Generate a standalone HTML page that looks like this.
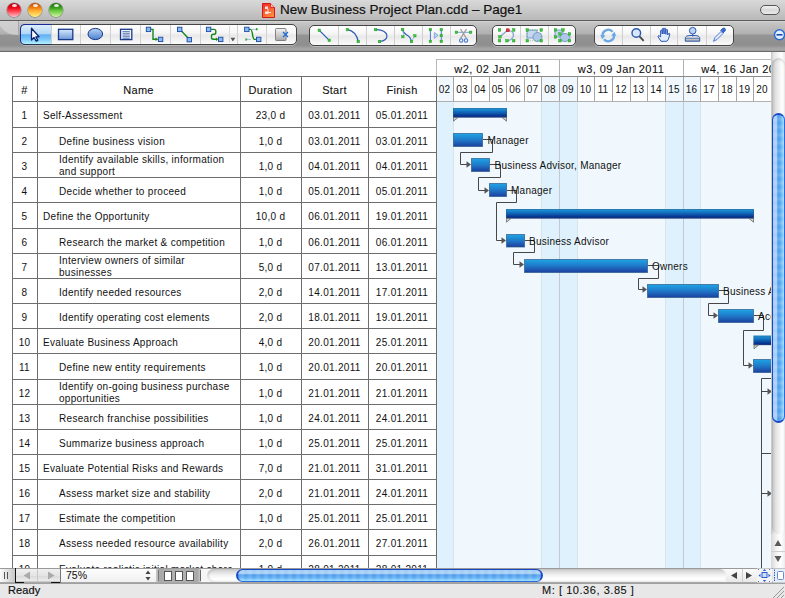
<!DOCTYPE html><html><head><meta charset="utf-8"><style>

*{box-sizing:border-box}
html,body{margin:0;padding:0}
body{width:785px;height:598px;overflow:hidden;position:relative;background:#fff;font-family:"Liberation Sans", sans-serif;color:#1a1a1a}
.abs{position:absolute}
#title{left:0;top:0;width:785px;height:21px;background:linear-gradient(#d9d9d9,#b9b9b9);border-bottom:1px solid #5d5d5d}
#tb{left:0;top:21px;width:785px;height:31px;background:linear-gradient(#d6d6d6 0px,#c4c4c4 2px,#b0b0b0 13px,#949494 14px,#8e8e8e 24px,#a8a8a8 28px,#a0a0a0 29px);border-bottom:1px solid #6a6a6a}
.grp{position:absolute;top:24px;height:21px;border:1px solid #454545;border-radius:5px;background:linear-gradient(#ffffff,#f6f6f6 40%,#e9e9e9 55%,#f4f4f4 85%,#fbfbfb);box-shadow:0 1px 0 rgba(255,255,255,.35)}
.sep{position:absolute;top:1px;bottom:1px;width:1px;background:#d0d0d0}
.t{position:absolute;white-space:nowrap;font-size:10px;letter-spacing:.3px;line-height:12px;color:#111}
.h{position:absolute;white-space:nowrap;font-size:11px;letter-spacing:.3px;color:#111;-webkit-text-stroke:.1px #111}

</style></head><body>
<div id="title" class="abs"></div>
<div class="abs" style="left:7px;top:3px;width:14px;height:14px;border-radius:50%;background:linear-gradient(#a80010 0,#f00818 35%,#ff3a48 55%,#ffc0c8 100%);box-shadow:0 0 0 .6px rgba(0,0,0,.3),0 .5px 1px rgba(0,0,0,.2)"></div>
<div class="abs" style="left:11.5px;top:4px;width:5px;height:3px;border-radius:50%;background:rgba(255,255,255,.85);filter:blur(.4px)"></div>
<div class="abs" style="left:28px;top:3px;width:14px;height:14px;border-radius:50%;background:linear-gradient(#b84800 0,#f08010 35%,#ffb030 55%,#fff080 100%);box-shadow:0 0 0 .6px rgba(0,0,0,.3),0 .5px 1px rgba(0,0,0,.2)"></div>
<div class="abs" style="left:32.5px;top:4px;width:5px;height:3px;border-radius:50%;background:rgba(255,255,255,.85);filter:blur(.4px)"></div>
<div class="abs" style="left:49px;top:3px;width:14px;height:14px;border-radius:50%;background:linear-gradient(#1a6a08 0,#3aa020 35%,#6ac840 55%,#d0f8a0 100%);box-shadow:0 0 0 .6px rgba(0,0,0,.3),0 .5px 1px rgba(0,0,0,.2)"></div>
<div class="abs" style="left:53.5px;top:4px;width:5px;height:3px;border-radius:50%;background:rgba(255,255,255,.85);filter:blur(.4px)"></div>
<svg class="abs" style="left:262px;top:3px" width="13" height="15" viewBox="0 0 13 15"><defs><linearGradient id="di" x1="0" y1="0" x2=".6" y2="1"><stop offset="0" stop-color="#f02a2a"/><stop offset="1" stop-color="#ff8a3a"/></linearGradient></defs><path d="M0.5 0.5H8.5L12.5 4.5V14.5H0.5Z" fill="url(#di)" stroke="#d81818"/><path d="M8.5 0.5V4.5H12.5" fill="#ffc0b0" stroke="#d81818" stroke-width=".8"/><path d="M3 3.5h3v2.5h-3z M5.5 6h1v3h2.5v1h-2.5v1h-3.5v-2.5h2.5z" fill="#fff" opacity=".85"/></svg>
<div class="abs" style="left:280px;top:2px;font-size:13.5px;letter-spacing:.02px;color:#111;white-space:nowrap;line-height:16px;-webkit-text-stroke:.2px #111">New Business Project Plan.cdd – Page1</div>
<div class="abs" style="left:760px;top:5px;width:20px;height:10px;border-radius:5px;border:1px solid #555;background:linear-gradient(#f4f4f4,#d8d8d8 50%,#eaeaea)"></div>
<div id="tb" class="abs"></div>
<svg class="abs" style="left:0;top:21px" width="20" height="30"><path d="M0 0H18V14Q6 14 0 5Z" fill="#d2d2d2" opacity=".8"/><line x1="18.5" y1="0" x2="18.5" y2="15" stroke="#a8a8a8" stroke-width="1"/></svg>
<div class="grp" style="left:20px;width:277px;top:24px"></div>
<div class="abs" style="left:51px;top:25px;height:19px;width:1px;background:#cfcfcf"></div>
<div class="abs" style="left:80px;top:25px;height:19px;width:1px;background:#cfcfcf"></div>
<div class="abs" style="left:110px;top:25px;height:19px;width:1px;background:#cfcfcf"></div>
<div class="abs" style="left:140px;top:25px;height:19px;width:1px;background:#cfcfcf"></div>
<div class="abs" style="left:170px;top:25px;height:19px;width:1px;background:#cfcfcf"></div>
<div class="abs" style="left:200px;top:25px;height:19px;width:1px;background:#cfcfcf"></div>
<div class="abs" style="left:229px;top:26px;height:17px;width:1px;background:#dadada"></div>
<div class="abs" style="left:237px;top:25px;height:19px;width:1px;background:#cfcfcf"></div>
<div class="abs" style="left:266px;top:25px;height:19px;width:1px;background:#cfcfcf"></div>
<div class="grp" style="left:309px;width:168px;top:25px"></div>
<div class="abs" style="left:338px;top:26px;height:19px;width:1px;background:#cfcfcf"></div>
<div class="abs" style="left:366px;top:26px;height:19px;width:1px;background:#cfcfcf"></div>
<div class="abs" style="left:394px;top:26px;height:19px;width:1px;background:#cfcfcf"></div>
<div class="abs" style="left:422px;top:26px;height:19px;width:1px;background:#cfcfcf"></div>
<div class="abs" style="left:450px;top:26px;height:19px;width:1px;background:#cfcfcf"></div>
<div class="grp" style="left:492px;width:84px;top:25px"></div>
<div class="abs" style="left:520px;top:26px;height:19px;width:1px;background:#cfcfcf"></div>
<div class="abs" style="left:548px;top:26px;height:19px;width:1px;background:#cfcfcf"></div>
<div class="grp" style="left:594px;width:140px;top:25px"></div>
<div class="abs" style="left:622px;top:26px;height:19px;width:1px;background:#cfcfcf"></div>
<div class="abs" style="left:650px;top:26px;height:19px;width:1px;background:#cfcfcf"></div>
<div class="abs" style="left:677px;top:26px;height:19px;width:1px;background:#cfcfcf"></div>
<div class="abs" style="left:706px;top:26px;height:19px;width:1px;background:#cfcfcf"></div>
<div class="abs" style="left:20px;top:24px;width:31px;height:21px;border:1px solid #1a2a9a;border-bottom-color:#2a3050;border-right:none;border-radius:5px 0 0 5px;background:linear-gradient(#dcedfb,#b2d8f6 45%,#62b0f0 52%,#7cc8f8 75%,#b4f2ff)"></div>
<svg class="abs" style="left:0;top:0" width="785" height="52" viewBox="0 0 785 52"><path d="M31.5 28.3V40L34 37.5L36.2 41.2L37.8 40.4L35.8 36.8H39Z" fill="#fff" stroke="#102070" stroke-width="1.3" stroke-linejoin="round"/><defs><linearGradient id="lb" x1="0" y1="0" x2="0" y2="1"><stop offset="0" stop-color="#d8e8fc"/><stop offset="1" stop-color="#6a9ad8"/></linearGradient><linearGradient id="lb2" x1="0" y1="0" x2="0" y2="1"><stop offset="0" stop-color="#b8d4f6"/><stop offset="1" stop-color="#4a80d0"/></linearGradient><linearGradient id="gb" x1="0" y1="0" x2="0" y2="1"><stop offset="0" stop-color="#f4f4f4"/><stop offset="1" stop-color="#a8a8a8"/></linearGradient></defs><rect x="58.5" y="29.3" width="14.3" height="10.3" fill="url(#lb)" stroke="#1a3a8a" stroke-width="1.3"/><ellipse cx="95.3" cy="34" rx="7.3" ry="5.6" fill="url(#lb2)" stroke="#1a3a8a" stroke-width="1"/><rect x="120.5" y="29.3" width="11.3" height="10.3" fill="#eef4fc" stroke="#1a3a8a" stroke-width="1.3"/><line x1="122.6" y1="31.6" x2="129.8" y2="31.6" stroke="#3a5aa0" stroke-width=".8"/><line x1="122.6" y1="33.3" x2="129.8" y2="33.3" stroke="#3a5aa0" stroke-width=".8"/><line x1="122.6" y1="35" x2="129.8" y2="35" stroke="#3a5aa0" stroke-width=".8"/><line x1="122.6" y1="36.7" x2="129.8" y2="36.7" stroke="#3a5aa0" stroke-width=".8"/><line x1="122.6" y1="38.3" x2="129.8" y2="38.3" stroke="#3a5aa0" stroke-width=".8"/><path d="M150.5 29.4H153V39.3H157" fill="none" stroke="#14881a" stroke-width="1.4"/><path d="M155.5 37.6L158.3 39.3L155.5 41Z" fill="#14881a"/><rect x="146.3" y="27.2" width="4.4" height="4.4" fill="#8ab8f0" stroke="#1a4aa0" stroke-width=".9"/><rect x="158.4" y="37.199999999999996" width="4.4" height="4.4" fill="#8ab8f0" stroke="#1a4aa0" stroke-width=".9"/><path d="M181 30.5L188.5 38.5" stroke="#14881a" stroke-width="1.4"/><rect x="177.5" y="27.2" width="4.4" height="4.4" fill="#8ab8f0" stroke="#1a4aa0" stroke-width=".9"/><rect x="187.10000000000002" y="37.5" width="4.4" height="4.4" fill="#8ab8f0" stroke="#1a4aa0" stroke-width=".9"/><path d="M210.8 29.4H214Q215.8 29.4 215.8 31.2V32.4Q215.8 34.2 214 34.2H213.3Q211.5 34.2 211.5 36V37.5Q211.5 39.3 213.3 39.3H216.5" fill="none" stroke="#14881a" stroke-width="1.4"/><path d="M216 37.6L218.5 39.3L216 41Z" fill="#14881a"/><rect x="206.4" y="27.2" width="4.4" height="4.4" fill="#8ab8f0" stroke="#1a4aa0" stroke-width=".9"/><rect x="218.5" y="37.199999999999996" width="4.4" height="4.4" fill="#8ab8f0" stroke="#1a4aa0" stroke-width=".9"/><path d="M230.5 37.8H235.3L232.9 41.6Z" fill="#555"/><path d="M249 29.4H250.5C253 29.4 252 39.4 254.5 39.4H256" fill="none" stroke="#14881a" stroke-width="1.4"/><path d="M251 29.4H256.5M246 39.4H251" stroke="#8ab0e0" stroke-width=".8"/><rect x="244.60000000000002" y="27.2" width="4.4" height="4.4" fill="#8ab8f0" stroke="#1a4aa0" stroke-width=".9"/><rect x="256.5" y="37.199999999999996" width="4.4" height="4.4" fill="#8ab8f0" stroke="#1a4aa0" stroke-width=".9"/><rect x="256.15000000000003" y="28.75" width="1.3" height="1.3" fill="#3ec43e" stroke="#1f9a1f" stroke-width=".4"/><rect x="245.65" y="38.85" width="1.3" height="1.3" fill="#3ec43e" stroke="#1f9a1f" stroke-width=".4"/><rect x="275.5" y="28.5" width="10.5" height="12" rx=".8" fill="url(#gb)" stroke="#777" stroke-width=".9"/><path d="M283 32L288 37M288 32L283 37" stroke="#1a6ad8" stroke-width="1.3"/><line x1="319.3" y1="30.3" x2="329.3" y2="40.3" stroke="#2a5ab0" stroke-width="1.2"/><rect x="318.0" y="29.0" width="2.6" height="2.6" fill="#3ec43e" stroke="#1f9a1f" stroke-width=".4"/><rect x="328.0" y="39.0" width="2.6" height="2.6" fill="#3ec43e" stroke="#1f9a1f" stroke-width=".4"/><path d="M347.4 29.6Q356 31 358.3 41.5" fill="none" stroke="#2a5ab0" stroke-width="1.2"/><rect x="346.09999999999997" y="28.3" width="2.6" height="2.6" fill="#3ec43e" stroke="#1f9a1f" stroke-width=".4"/><rect x="357.0" y="40.2" width="2.6" height="2.6" fill="#3ec43e" stroke="#1f9a1f" stroke-width=".4"/><path d="M375.5 29.6C390 29 390 41.5 379.5 41.5" fill="none" stroke="#2a5ab0" stroke-width="1.2"/><rect x="374.2" y="28.3" width="2.6" height="2.6" fill="#3ec43e" stroke="#1f9a1f" stroke-width=".4"/><rect x="378.2" y="40.2" width="2.6" height="2.6" fill="#3ec43e" stroke="#1f9a1f" stroke-width=".4"/><path d="M402.6 29.5C404 37 410 33 411.5 41.5" fill="none" stroke="#2a5ab0" stroke-width="1.1"/><path d="M402.6 29.5L404 36M411.5 41.5L414.9 35.8" stroke="#7aa8e0" stroke-width=".7"/><rect x="401.3" y="28.2" width="2.6" height="2.6" fill="#3ec43e" stroke="#1f9a1f" stroke-width=".4"/><rect x="410.2" y="40.2" width="2.6" height="2.6" fill="#3ec43e" stroke="#1f9a1f" stroke-width=".4"/><rect x="401.7" y="35.5" width="2.4" height="2.4" fill="#3ec43e" stroke="#1f9a1f" stroke-width=".4"/><rect x="413.7" y="34.599999999999994" width="2.4" height="2.4" fill="#3ec43e" stroke="#1f9a1f" stroke-width=".4"/><line x1="430.4" y1="29.5" x2="430.4" y2="41.5" stroke="#4a7ad0" stroke-width="1"/><line x1="441.3" y1="29.5" x2="441.3" y2="41.5" stroke="#4a7ad0" stroke-width="1"/><path d="M434.4 32.5L438.2 35.3L434.4 38.3Z" fill="#bcd4f4" stroke="#6a94d8" stroke-width=".7"/><rect x="429.09999999999997" y="28.3" width="2.6" height="2.6" fill="#3ec43e" stroke="#1f9a1f" stroke-width=".4"/><rect x="429.09999999999997" y="40.1" width="2.6" height="2.6" fill="#3ec43e" stroke="#1f9a1f" stroke-width=".4"/><rect x="440.0" y="28.3" width="2.6" height="2.6" fill="#3ec43e" stroke="#1f9a1f" stroke-width=".4"/><rect x="440.0" y="34.2" width="2.6" height="2.6" fill="#3ec43e" stroke="#1f9a1f" stroke-width=".4"/><rect x="440.0" y="40.1" width="2.6" height="2.6" fill="#3ec43e" stroke="#1f9a1f" stroke-width=".4"/><line x1="456.4" y1="32.3" x2="470.6" y2="32.3" stroke="#6a94d8" stroke-width=".9"/><path d="M460.5 29L466.5 38.5M466.5 29L460.5 38.5" stroke="#9a9a9a" stroke-width="1.3"/><circle cx="461.2" cy="40.5" r="1.7" fill="none" stroke="#4a7ad0" stroke-width="1.1"/><circle cx="466" cy="40.5" r="1.7" fill="none" stroke="#4a7ad0" stroke-width="1.1"/><rect x="455.09999999999997" y="30.999999999999996" width="2.6" height="2.6" fill="#3ec43e" stroke="#1f9a1f" stroke-width=".4"/><rect x="469.3" y="30.999999999999996" width="2.6" height="2.6" fill="#3ec43e" stroke="#1f9a1f" stroke-width=".4"/><path d="M499.9 36.8L507.7 30.3Q515 31 513 37Q511 40.7 507 40.7" fill="none" stroke="#8aa8d8" stroke-width="1.4"/><rect x="498.2" y="28.7" width="2.6" height="2.6" fill="#3ec43e" stroke="#1f9a1f" stroke-width=".4"/><rect x="512.4000000000001" y="28.7" width="2.6" height="2.6" fill="#3ec43e" stroke="#1f9a1f" stroke-width=".4"/><rect x="498.2" y="39.400000000000006" width="2.6" height="2.6" fill="#3ec43e" stroke="#1f9a1f" stroke-width=".4"/><rect x="512.4000000000001" y="39.400000000000006" width="2.6" height="2.6" fill="#3ec43e" stroke="#1f9a1f" stroke-width=".4"/><rect x="498.59999999999997" y="35.5" width="2.6" height="2.6" fill="#3ec43e" stroke="#1f9a1f" stroke-width=".4"/><rect x="505.7" y="39.400000000000006" width="2.6" height="2.6" fill="#3ec43e" stroke="#1f9a1f" stroke-width=".4"/><rect x="506.2" y="28.8" width="3" height="3" fill="#e03030" stroke="#a01010" stroke-width=".4"/><rect x="527" y="30" width="10" height="8" fill="#c4d8f0" stroke="#6a8ac0" stroke-width=".8"/><circle cx="537.5" cy="37" r="4.5" fill="#b0c8e8" stroke="#6a8ac0" stroke-width=".8"/><rect x="527" y="30" width="14" height="10.7" fill="none" stroke="#3aaa3a" stroke-width=".6" stroke-dasharray="1 1.5"/><rect x="526.0" y="28.7" width="2.6" height="2.6" fill="#3ec43e" stroke="#1f9a1f" stroke-width=".4"/><rect x="540.0" y="28.7" width="2.6" height="2.6" fill="#3ec43e" stroke="#1f9a1f" stroke-width=".4"/><rect x="526.0" y="39.400000000000006" width="2.6" height="2.6" fill="#3ec43e" stroke="#1f9a1f" stroke-width=".4"/><rect x="540.0" y="39.400000000000006" width="2.6" height="2.6" fill="#3ec43e" stroke="#1f9a1f" stroke-width=".4"/><rect x="555" y="30" width="8" height="7" fill="#c4d8f0" stroke="#6a8ac0" stroke-width=".8"/><ellipse cx="565" cy="37.5" rx="5" ry="4" fill="#b0c8e8" stroke="#6a8ac0" stroke-width=".8"/><rect x="554.2" y="28.7" width="2.6" height="2.6" fill="#3ec43e" stroke="#1f9a1f" stroke-width=".4"/><rect x="561.7" y="28.7" width="2.6" height="2.6" fill="#3ec43e" stroke="#1f9a1f" stroke-width=".4"/><rect x="554.2" y="35.7" width="2.6" height="2.6" fill="#3ec43e" stroke="#1f9a1f" stroke-width=".4"/><rect x="558.7" y="32.7" width="2.6" height="2.6" fill="#3ec43e" stroke="#1f9a1f" stroke-width=".4"/><rect x="568.2" y="32.7" width="2.6" height="2.6" fill="#3ec43e" stroke="#1f9a1f" stroke-width=".4"/><rect x="558.7" y="39.400000000000006" width="2.6" height="2.6" fill="#3ec43e" stroke="#1f9a1f" stroke-width=".4"/><rect x="568.2" y="39.400000000000006" width="2.6" height="2.6" fill="#3ec43e" stroke="#1f9a1f" stroke-width=".4"/><path d="M602.8 36.5A5.6 5.6 0 0 1 612.6 31.8" fill="none" stroke="#6aa8e6" stroke-width="2.4"/><path d="M613.8 34.5A5.6 5.6 0 0 1 604 39.2" fill="none" stroke="#6aa8e6" stroke-width="2.4"/><path d="M600.3 35L605.5 35.5L602.2 39.3Z M616.3 36L611.1 35.5L614.4 31.7Z" fill="#6aa8e6"/><circle cx="636.3" cy="33" r="4.3" fill="#d8e8fc" stroke="#2a5ab0" stroke-width="1.4"/><path d="M639.5 36.3L643.7 40.8" stroke="#444" stroke-width="1.8"/><path d="M661 41.3L658.2 37Q657.6 35.8 658.8 35.6L660.6 36.8V30.8Q660.8 29.6 661.9 30.2L662.3 34V29Q662.6 27.9 663.7 28.3L664.1 34V28.8Q664.5 27.9 665.6 28.4L665.9 34.3V30Q666.4 29.2 667.4 29.7L667.7 35Q668.5 33 669.3 33.3Q670.2 33.8 669.7 35L668.2 39.5Q667.5 41.3 666 41.3Z" fill="#e0ecfc" stroke="#1a4ab0" stroke-width=".9" stroke-linejoin="round"/><circle cx="692.7" cy="30.7" r="3.3" fill="#bcd4f4" stroke="#2a5ab0" stroke-width="1"/><path d="M685.3 37.5Q686 35.5 690 35.5H695Q699 35.5 699.7 37.5V41.2H685.3Z" fill="url(#gb)" stroke="#2a5ab0" stroke-width="1"/><line x1="692.7" y1="34" x2="692.7" y2="36.5" stroke="#2a5ab0"/><line x1="685.5" y1="38.3" x2="699.5" y2="38.3" stroke="#2a5ab0" stroke-width=".7"/><path d="M713.5 41.3L715 37.5L721 31.5L723 33.5L717 39.5Z" fill="#e4eefc" stroke="#3a6ad0" stroke-width=".9"/><path d="M720.5 30.5L722.5 28.5Q724 27.5 725 28.5Q726 29.5 725 31L723 33" fill="#3a6ad0" stroke="#2a5ab0" stroke-width=".9"/><circle cx="779.5" cy="34.8" r="5" fill="#e4eefc" stroke="#2a6ad0" stroke-width="1.4"/><line x1="776.5" y1="34.8" x2="782.5" y2="34.8" stroke="#1a4ab0" stroke-width="1.6"/></svg>
<div class="abs" style="left:0;top:52px;width:771px;height:516px;overflow:hidden;background:#fff" id="cv">
<div class="abs" style="left:437px;top:50px;width:334px;height:600px;background:#f0f8fe"></div>
<div class="abs" style="left:437px;top:50px;width:16px;height:600px;background:#dff1fc"></div>
<div class="abs" style="left:541px;top:50px;width:36px;height:600px;background:#dff1fc"></div>
<div class="abs" style="left:665px;top:50px;width:35px;height:600px;background:#dff1fc"></div>
<div class="abs" style="left:788px;top:50px;width:0px;height:600px;background:#dff1fc"></div>
<div class="abs" style="left:437px;top:25px;width:16px;height:24px;background:#f0f8fe"></div>
<div class="abs" style="left:541px;top:25px;width:36px;height:24px;background:#f0f8fe"></div>
<div class="abs" style="left:665px;top:25px;width:35px;height:24px;background:#f0f8fe"></div>
<div class="abs" style="left:453px;top:50px;width:1px;height:600px;background:#d8e4ec"></div>
<div class="abs" style="left:541px;top:50px;width:1px;height:600px;background:#d8e4ec"></div>
<div class="abs" style="left:577px;top:50px;width:1px;height:600px;background:#d8e4ec"></div>
<div class="abs" style="left:665px;top:50px;width:1px;height:600px;background:#d8e4ec"></div>
<div class="abs" style="left:700px;top:50px;width:1px;height:600px;background:#d8e4ec"></div>
<div class="abs" style="left:559px;top:50px;width:1px;height:600px;background:#c4c8d0"></div>
<div class="abs" style="left:683px;top:50px;width:1px;height:600px;background:#c4c8d0"></div>
<div class="abs" style="left:436px;top:7px;width:335px;height:1px;background:#bcbcbc"></div>
<div class="abs" style="left:436px;top:7px;width:1px;height:17px;background:#b8b8b8"></div>
<div class="abs" style="left:559px;top:7px;width:1px;height:17px;background:#b0b0b0"></div>
<div class="abs" style="left:683px;top:7px;width:1px;height:17px;background:#b0b0b0"></div>
<div class="abs" style="left:436px;top:24px;width:335px;height:1px;background:#8a8a8a"></div>
<div class="abs" style="left:436px;top:49px;width:335px;height:1px;background:#b0b0b0"></div>
<div class="abs" style="left:453px;top:25px;width:1px;height:24px;background:#a4a4a4"></div>
<div class="abs" style="left:471px;top:25px;width:1px;height:24px;background:#a4a4a4"></div>
<div class="abs" style="left:489px;top:25px;width:1px;height:24px;background:#a4a4a4"></div>
<div class="abs" style="left:506px;top:25px;width:1px;height:24px;background:#a4a4a4"></div>
<div class="abs" style="left:524px;top:25px;width:1px;height:24px;background:#a4a4a4"></div>
<div class="abs" style="left:541px;top:25px;width:1px;height:24px;background:#a4a4a4"></div>
<div class="abs" style="left:559px;top:25px;width:1px;height:24px;background:#a4a4a4"></div>
<div class="abs" style="left:577px;top:25px;width:1px;height:24px;background:#a4a4a4"></div>
<div class="abs" style="left:594px;top:25px;width:1px;height:24px;background:#a4a4a4"></div>
<div class="abs" style="left:612px;top:25px;width:1px;height:24px;background:#a4a4a4"></div>
<div class="abs" style="left:630px;top:25px;width:1px;height:24px;background:#a4a4a4"></div>
<div class="abs" style="left:647px;top:25px;width:1px;height:24px;background:#a4a4a4"></div>
<div class="abs" style="left:665px;top:25px;width:1px;height:24px;background:#a4a4a4"></div>
<div class="abs" style="left:683px;top:25px;width:1px;height:24px;background:#a4a4a4"></div>
<div class="abs" style="left:700px;top:25px;width:1px;height:24px;background:#a4a4a4"></div>
<div class="abs" style="left:718px;top:25px;width:1px;height:24px;background:#a4a4a4"></div>
<div class="abs" style="left:736px;top:25px;width:1px;height:24px;background:#a4a4a4"></div>
<div class="abs" style="left:753px;top:25px;width:1px;height:24px;background:#a4a4a4"></div>
<div class="h" style="left:437.5px;width:120px;text-align:center;top:10px;line-height:14px;letter-spacing:.43px">w2, 02 Jan 2011</div>
<div class="h" style="left:561.0px;width:120px;text-align:center;top:10px;line-height:14px;letter-spacing:.43px">w3, 09 Jan 2011</div>
<div class="h" style="left:684.5px;width:120px;text-align:center;top:10px;line-height:14px;letter-spacing:.43px">w4, 16 Jan 2011</div>
<div class="t" style="left:434.5px;width:20px;text-align:center;top:31.5px;font-size:10px;letter-spacing:.1px">02</div>
<div class="t" style="left:452.0px;width:20px;text-align:center;top:31.5px;font-size:10px;letter-spacing:.1px">03</div>
<div class="t" style="left:470.0px;width:20px;text-align:center;top:31.5px;font-size:10px;letter-spacing:.1px">04</div>
<div class="t" style="left:487.5px;width:20px;text-align:center;top:31.5px;font-size:10px;letter-spacing:.1px">05</div>
<div class="t" style="left:505.0px;width:20px;text-align:center;top:31.5px;font-size:10px;letter-spacing:.1px">06</div>
<div class="t" style="left:522.5px;width:20px;text-align:center;top:31.5px;font-size:10px;letter-spacing:.1px">07</div>
<div class="t" style="left:540.0px;width:20px;text-align:center;top:31.5px;font-size:10px;letter-spacing:.1px">08</div>
<div class="t" style="left:558.0px;width:20px;text-align:center;top:31.5px;font-size:10px;letter-spacing:.1px">09</div>
<div class="t" style="left:575.5px;width:20px;text-align:center;top:31.5px;font-size:10px;letter-spacing:.1px">10</div>
<div class="t" style="left:593.0px;width:20px;text-align:center;top:31.5px;font-size:10px;letter-spacing:.1px">11</div>
<div class="t" style="left:611.0px;width:20px;text-align:center;top:31.5px;font-size:10px;letter-spacing:.1px">12</div>
<div class="t" style="left:628.5px;width:20px;text-align:center;top:31.5px;font-size:10px;letter-spacing:.1px">13</div>
<div class="t" style="left:646.0px;width:20px;text-align:center;top:31.5px;font-size:10px;letter-spacing:.1px">14</div>
<div class="t" style="left:664.0px;width:20px;text-align:center;top:31.5px;font-size:10px;letter-spacing:.1px">15</div>
<div class="t" style="left:681.5px;width:20px;text-align:center;top:31.5px;font-size:10px;letter-spacing:.1px">16</div>
<div class="t" style="left:699.0px;width:20px;text-align:center;top:31.5px;font-size:10px;letter-spacing:.1px">17</div>
<div class="t" style="left:717.0px;width:20px;text-align:center;top:31.5px;font-size:10px;letter-spacing:.1px">18</div>
<div class="t" style="left:734.5px;width:20px;text-align:center;top:31.5px;font-size:10px;letter-spacing:.1px">19</div>
<div class="t" style="left:752.0px;width:20px;text-align:center;top:31.5px;font-size:10px;letter-spacing:.1px">20</div>
<div class="abs" style="left:12px;top:24px;width:425px;height:1px;background:#6e6e6e"></div>
<div class="abs" style="left:12px;top:49px;width:425px;height:1px;background:#6e6e6e"></div>
<div class="abs" style="left:12px;top:75px;width:425px;height:1px;background:#6e6e6e"></div>
<div class="abs" style="left:12px;top:100px;width:425px;height:1px;background:#6e6e6e"></div>
<div class="abs" style="left:12px;top:125px;width:425px;height:1px;background:#6e6e6e"></div>
<div class="abs" style="left:12px;top:150px;width:425px;height:1px;background:#6e6e6e"></div>
<div class="abs" style="left:12px;top:176px;width:425px;height:1px;background:#6e6e6e"></div>
<div class="abs" style="left:12px;top:201px;width:425px;height:1px;background:#6e6e6e"></div>
<div class="abs" style="left:12px;top:226px;width:425px;height:1px;background:#6e6e6e"></div>
<div class="abs" style="left:12px;top:251px;width:425px;height:1px;background:#6e6e6e"></div>
<div class="abs" style="left:12px;top:276px;width:425px;height:1px;background:#6e6e6e"></div>
<div class="abs" style="left:12px;top:301px;width:425px;height:1px;background:#6e6e6e"></div>
<div class="abs" style="left:12px;top:327px;width:425px;height:1px;background:#6e6e6e"></div>
<div class="abs" style="left:12px;top:352px;width:425px;height:1px;background:#6e6e6e"></div>
<div class="abs" style="left:12px;top:377px;width:425px;height:1px;background:#6e6e6e"></div>
<div class="abs" style="left:12px;top:402px;width:425px;height:1px;background:#6e6e6e"></div>
<div class="abs" style="left:12px;top:427px;width:425px;height:1px;background:#6e6e6e"></div>
<div class="abs" style="left:12px;top:452px;width:425px;height:1px;background:#6e6e6e"></div>
<div class="abs" style="left:12px;top:477px;width:425px;height:1px;background:#6e6e6e"></div>
<div class="abs" style="left:12px;top:503px;width:425px;height:1px;background:#6e6e6e"></div>
<div class="abs" style="left:12px;top:528px;width:425px;height:1px;background:#6e6e6e"></div>
<div class="abs" style="left:12px;top:24px;width:1px;height:600px;background:#6e6e6e"></div>
<div class="abs" style="left:37px;top:24px;width:1px;height:600px;background:#6e6e6e"></div>
<div class="abs" style="left:240px;top:24px;width:1px;height:600px;background:#6e6e6e"></div>
<div class="abs" style="left:301px;top:24px;width:1px;height:600px;background:#6e6e6e"></div>
<div class="abs" style="left:368px;top:24px;width:1px;height:600px;background:#6e6e6e"></div>
<div class="abs" style="left:436px;top:24px;width:1px;height:600px;background:#6e6e6e"></div>
<div class="h" style="left:12px;width:25px;text-align:center;top:32px;line-height:13px">#</div>
<div class="h" style="left:37px;width:203px;text-align:center;top:32px;line-height:13px">Name</div>
<div class="h" style="left:240px;width:61px;text-align:center;top:32px;line-height:13px">Duration</div>
<div class="h" style="left:301px;width:67px;text-align:center;top:32px;line-height:13px">Start</div>
<div class="h" style="left:368px;width:68px;text-align:center;top:32px;line-height:13px">Finish</div>
<div class="t" style="left:12px;width:25px;text-align:center;top:58px">1</div>
<div class="t" style="left:43px;top:58px">Self-Assessment</div>
<div class="t" style="left:240px;width:61px;text-align:center;top:58px">23,0 d</div>
<div class="t" style="left:301px;width:67px;text-align:center;top:58px">03.01.2011</div>
<div class="t" style="left:368px;width:68px;text-align:center;top:58px">05.01.2011</div>
<div class="t" style="left:12px;width:25px;text-align:center;top:84px">2</div>
<div class="t" style="left:59px;top:84px">Define business vision</div>
<div class="t" style="left:240px;width:61px;text-align:center;top:84px">1,0 d</div>
<div class="t" style="left:301px;width:67px;text-align:center;top:84px">03.01.2011</div>
<div class="t" style="left:368px;width:68px;text-align:center;top:84px">03.01.2011</div>
<div class="t" style="left:12px;width:25px;text-align:center;top:109px">3</div>
<div class="t" style="left:59px;top:102px">Identify available skills, information<br>and support</div>
<div class="t" style="left:240px;width:61px;text-align:center;top:109px">1,0 d</div>
<div class="t" style="left:301px;width:67px;text-align:center;top:109px">04.01.2011</div>
<div class="t" style="left:368px;width:68px;text-align:center;top:109px">04.01.2011</div>
<div class="t" style="left:12px;width:25px;text-align:center;top:134px">4</div>
<div class="t" style="left:59px;top:134px">Decide whether to proceed</div>
<div class="t" style="left:240px;width:61px;text-align:center;top:134px">1,0 d</div>
<div class="t" style="left:301px;width:67px;text-align:center;top:134px">05.01.2011</div>
<div class="t" style="left:368px;width:68px;text-align:center;top:134px">05.01.2011</div>
<div class="t" style="left:12px;width:25px;text-align:center;top:159px">5</div>
<div class="t" style="left:43px;top:159px">Define the Opportunity</div>
<div class="t" style="left:240px;width:61px;text-align:center;top:159px">10,0 d</div>
<div class="t" style="left:301px;width:67px;text-align:center;top:159px">06.01.2011</div>
<div class="t" style="left:368px;width:68px;text-align:center;top:159px">19.01.2011</div>
<div class="t" style="left:12px;width:25px;text-align:center;top:185px">6</div>
<div class="t" style="left:59px;top:185px">Research the market &amp; competition</div>
<div class="t" style="left:240px;width:61px;text-align:center;top:185px">1,0 d</div>
<div class="t" style="left:301px;width:67px;text-align:center;top:185px">06.01.2011</div>
<div class="t" style="left:368px;width:68px;text-align:center;top:185px">06.01.2011</div>
<div class="t" style="left:12px;width:25px;text-align:center;top:210px">7</div>
<div class="t" style="left:59px;top:203px">Interview owners of similar<br>businesses</div>
<div class="t" style="left:240px;width:61px;text-align:center;top:210px">5,0 d</div>
<div class="t" style="left:301px;width:67px;text-align:center;top:210px">07.01.2011</div>
<div class="t" style="left:368px;width:68px;text-align:center;top:210px">13.01.2011</div>
<div class="t" style="left:12px;width:25px;text-align:center;top:235px">8</div>
<div class="t" style="left:59px;top:235px">Identify needed resources</div>
<div class="t" style="left:240px;width:61px;text-align:center;top:235px">2,0 d</div>
<div class="t" style="left:301px;width:67px;text-align:center;top:235px">14.01.2011</div>
<div class="t" style="left:368px;width:68px;text-align:center;top:235px">17.01.2011</div>
<div class="t" style="left:12px;width:25px;text-align:center;top:260px">9</div>
<div class="t" style="left:59px;top:260px">Identify operating cost elements</div>
<div class="t" style="left:240px;width:61px;text-align:center;top:260px">2,0 d</div>
<div class="t" style="left:301px;width:67px;text-align:center;top:260px">18.01.2011</div>
<div class="t" style="left:368px;width:68px;text-align:center;top:260px">19.01.2011</div>
<div class="t" style="left:12px;width:25px;text-align:center;top:285px">10</div>
<div class="t" style="left:43px;top:285px">Evaluate Business Approach</div>
<div class="t" style="left:240px;width:61px;text-align:center;top:285px">4,0 d</div>
<div class="t" style="left:301px;width:67px;text-align:center;top:285px">20.01.2011</div>
<div class="t" style="left:368px;width:68px;text-align:center;top:285px">25.01.2011</div>
<div class="t" style="left:12px;width:25px;text-align:center;top:310px">11</div>
<div class="t" style="left:59px;top:310px">Define new entity requirements</div>
<div class="t" style="left:240px;width:61px;text-align:center;top:310px">1,0 d</div>
<div class="t" style="left:301px;width:67px;text-align:center;top:310px">20.01.2011</div>
<div class="t" style="left:368px;width:68px;text-align:center;top:310px">20.01.2011</div>
<div class="t" style="left:12px;width:25px;text-align:center;top:336px">12</div>
<div class="t" style="left:59px;top:329px">Identify on-going business purchase<br>opportunities</div>
<div class="t" style="left:240px;width:61px;text-align:center;top:336px">1,0 d</div>
<div class="t" style="left:301px;width:67px;text-align:center;top:336px">21.01.2011</div>
<div class="t" style="left:368px;width:68px;text-align:center;top:336px">21.01.2011</div>
<div class="t" style="left:12px;width:25px;text-align:center;top:361px">13</div>
<div class="t" style="left:59px;top:361px">Research franchise possibilities</div>
<div class="t" style="left:240px;width:61px;text-align:center;top:361px">1,0 d</div>
<div class="t" style="left:301px;width:67px;text-align:center;top:361px">24.01.2011</div>
<div class="t" style="left:368px;width:68px;text-align:center;top:361px">24.01.2011</div>
<div class="t" style="left:12px;width:25px;text-align:center;top:386px">14</div>
<div class="t" style="left:59px;top:386px">Summarize business approach</div>
<div class="t" style="left:240px;width:61px;text-align:center;top:386px">1,0 d</div>
<div class="t" style="left:301px;width:67px;text-align:center;top:386px">25.01.2011</div>
<div class="t" style="left:368px;width:68px;text-align:center;top:386px">25.01.2011</div>
<div class="t" style="left:12px;width:25px;text-align:center;top:411px">15</div>
<div class="t" style="left:43px;top:411px">Evaluate Potential Risks and Rewards</div>
<div class="t" style="left:240px;width:61px;text-align:center;top:411px">7,0 d</div>
<div class="t" style="left:301px;width:67px;text-align:center;top:411px">21.01.2011</div>
<div class="t" style="left:368px;width:68px;text-align:center;top:411px">31.01.2011</div>
<div class="t" style="left:12px;width:25px;text-align:center;top:436px">16</div>
<div class="t" style="left:59px;top:436px">Assess market size and stability</div>
<div class="t" style="left:240px;width:61px;text-align:center;top:436px">2,0 d</div>
<div class="t" style="left:301px;width:67px;text-align:center;top:436px">21.01.2011</div>
<div class="t" style="left:368px;width:68px;text-align:center;top:436px">24.01.2011</div>
<div class="t" style="left:12px;width:25px;text-align:center;top:461px">17</div>
<div class="t" style="left:59px;top:461px">Estimate the competition</div>
<div class="t" style="left:240px;width:61px;text-align:center;top:461px">1,0 d</div>
<div class="t" style="left:301px;width:67px;text-align:center;top:461px">25.01.2011</div>
<div class="t" style="left:368px;width:68px;text-align:center;top:461px">25.01.2011</div>
<div class="t" style="left:12px;width:25px;text-align:center;top:486px">18</div>
<div class="t" style="left:59px;top:486px">Assess needed resource availability</div>
<div class="t" style="left:240px;width:61px;text-align:center;top:486px">2,0 d</div>
<div class="t" style="left:301px;width:67px;text-align:center;top:486px">26.01.2011</div>
<div class="t" style="left:368px;width:68px;text-align:center;top:486px">27.01.2011</div>
<div class="t" style="left:12px;width:25px;text-align:center;top:512px">19</div>
<div class="t" style="left:59px;top:512px">Evaluate realistic initial market share</div>
<div class="t" style="left:240px;width:61px;text-align:center;top:512px">1,0 d</div>
<div class="t" style="left:301px;width:67px;text-align:center;top:512px">28.01.2011</div>
<div class="t" style="left:368px;width:68px;text-align:center;top:512px">28.01.2011</div>
<svg class="abs" style="left:0;top:-52px" width="771" height="620" viewBox="0 0 771 620"><defs><linearGradient id="tk" x1="0" y1="0" x2="0" y2="1"><stop offset="0" stop-color="#1ea4e4"/><stop offset=".5" stop-color="#1f78c8"/><stop offset="1" stop-color="#1c3f9e"/></linearGradient><linearGradient id="sm" x1="0" y1="0" x2="0" y2="1"><stop offset="0" stop-color="#1c9ee0"/><stop offset=".45" stop-color="#1266b8"/><stop offset="1" stop-color="#001c7c"/></linearGradient></defs><rect x="453" y="108" width="54" height="9.5" fill="url(#sm)"/><rect x="453.5" y="108.5" width="53" height="8.5" fill="none" stroke="#3a5a7a" stroke-opacity=".45"/><path d="M453.5 117.5H458L453.5 121.2Z" fill="#d0d0d0" stroke="#6a6a6a" stroke-width=".8"/><path d="M506.5 117.5H502L506.5 121.2Z" fill="#d0d0d0" stroke="#6a6a6a" stroke-width=".8"/><rect x="453.5" y="133.5" width="29" height="13" fill="url(#tk)" stroke="#2a5a8a" stroke-opacity=".7"/><rect x="471.5" y="158.5" width="18" height="13" fill="url(#tk)" stroke="#2a5a8a" stroke-opacity=".7"/><rect x="489.5" y="183.5" width="17" height="13" fill="url(#tk)" stroke="#2a5a8a" stroke-opacity=".7"/><rect x="506" y="209" width="248" height="9.5" fill="url(#sm)"/><rect x="506.5" y="209.5" width="247" height="8.5" fill="none" stroke="#3a5a7a" stroke-opacity=".45"/><path d="M506.5 218.5H511L506.5 222.2Z" fill="#d0d0d0" stroke="#6a6a6a" stroke-width=".8"/><path d="M753.5 218.5H749L753.5 222.2Z" fill="#d0d0d0" stroke="#6a6a6a" stroke-width=".8"/><rect x="506.5" y="234.5" width="18" height="12.5" fill="url(#tk)" stroke="#2a5a8a" stroke-opacity=".7"/><rect x="524.5" y="259.5" width="123" height="13" fill="url(#tk)" stroke="#2a5a8a" stroke-opacity=".7"/><rect x="647.5" y="284.5" width="71" height="13" fill="url(#tk)" stroke="#2a5a8a" stroke-opacity=".7"/><rect x="718.5" y="309.5" width="35" height="13" fill="url(#tk)" stroke="#2a5a8a" stroke-opacity=".7"/><rect x="753.5" y="335.6" width="36.5" height="9.5" fill="url(#sm)"/><rect x="754.0" y="336.1" width="35.5" height="8.5" fill="none" stroke="#3a5a7a" stroke-opacity=".45"/><path d="M754.0 345.1H758.5L754.0 348.8Z" fill="#d0d0d0" stroke="#6a6a6a" stroke-width=".8"/><path d="M789.5 345.1H785L789.5 348.8Z" fill="#d0d0d0" stroke="#6a6a6a" stroke-width=".8"/><rect x="753.5" y="359.5" width="40" height="13" fill="url(#tk)" stroke="#2a5a8a" stroke-opacity=".7"/><path d="M483 139.5H492.5V152.5H460.5V164.5H468" fill="none" stroke="#474747" stroke-width="1"/><path d="M466.5 161.3L471 164.5L466.5 167.7Z" fill="#555"/><path d="M490 164.5H500.5V177.5H478.5V190.5H486" fill="none" stroke="#474747" stroke-width="1"/><path d="M484.5 187.3L489 190.5L484.5 193.7Z" fill="#555"/><path d="M507 190.5H516.5V202.5H496.5V240.5H503" fill="none" stroke="#474747" stroke-width="1"/><path d="M501.5 237.3L506 240.5L501.5 243.7Z" fill="#555"/><path d="M525 240.5H534.5V252.5H513.5V264.5H521" fill="none" stroke="#474747" stroke-width="1"/><path d="M519.5 261.3L524 264.5L519.5 267.7Z" fill="#555"/><path d="M648 265.5H658.5V278.5H638.5V289.5H644" fill="none" stroke="#474747" stroke-width="1"/><path d="M642.5 286.3L647 289.5L642.5 292.7Z" fill="#555"/><path d="M719 290.5H728.5V303.5H708.5V315.5H715" fill="none" stroke="#474747" stroke-width="1"/><path d="M713.5 312.3L718 315.5L713.5 318.7Z" fill="#555"/><path d="M754 315.5H763.5V330.5H743.5V365.5H750" fill="none" stroke="#474747" stroke-width="1"/><path d="M748.5 362.3L753 365.5L748.5 368.7Z" fill="#555"/><path d="M772 378.5H761.5V600M761.5 391.5H768M761.5 453.5H772M761.5 493.5H768" fill="none" stroke="#474747" stroke-width="1"/><path d="M767.5 388.3L772 391.5L767.5 394.7Z" fill="#555"/><path d="M767.5 490.3L772 493.5L767.5 496.7Z" fill="#555"/></svg>
<div class="t" style="left:487.5px;top:83px;font-size:10px;letter-spacing:.25px">Manager</div>
<div class="t" style="left:494.5px;top:108px;font-size:10px;letter-spacing:.25px">Business Advisor, Manager</div>
<div class="t" style="left:511px;top:133px;font-size:10px;letter-spacing:.25px">Manager</div>
<div class="t" style="left:529px;top:184px;font-size:10px;letter-spacing:.25px">Business Advisor</div>
<div class="t" style="left:652px;top:209px;font-size:10px;letter-spacing:.25px">Owners</div>
<div class="t" style="left:723px;top:234px;font-size:10px;letter-spacing:.25px">Business Advisor</div>
<div class="t" style="left:758px;top:259px;font-size:10px;letter-spacing:.25px">Account</div>
</div>
<div class="abs" style="left:771px;top:52px;width:14px;height:516px;background:linear-gradient(90deg,#c4c4c4,#e6e6e6 20%,#f4f4f4 50%,#ffffff 75%,#e8e8e8)"></div>
<div class="abs" style="left:772px;top:58px;width:13px;height:476px;border-radius:7px;background:linear-gradient(90deg,#bdbdbd,#dedede 25%,#f2f2f2 55%,#ffffff 80%,#eeeeee);box-shadow:inset 0 2px 2px rgba(0,0,0,.12)"></div>
<div class="abs" style="left:772px;top:113px;width:13px;height:310px;border-radius:7px;border-left:1px solid #1a48c8;border-top:2px solid #1a48c8;border-bottom:2px solid #1a48c8;border-right:1px solid #2a6ad8;background:repeating-linear-gradient(rgba(255,255,255,0) 0,rgba(255,255,255,.18) 4px,rgba(255,255,255,0) 8px),linear-gradient(90deg,#9cc8f4,#a8d2f6 30%,#4a96ea 45%,#5aaaf2 70%,#9ae0ff)"></div>
<div class="abs" style="left:771px;top:534px;width:14px;height:34px;background:linear-gradient(90deg,#d8d8d8,#f4f4f4 40%,#fff 70%,#ececec)"></div>
<div class="abs" style="left:771px;top:551px;width:14px;height:1px;background:#d0d0d0"></div>
<svg class="abs" style="left:771px;top:534px" width="14" height="34"><path d="M3.5 12H10.5L7 6Z" fill="#5a5a5a"/><path d="M3.5 22H10.5L7 28Z" fill="#5a5a5a"/></svg>
<div class="abs" style="left:0;top:568px;width:785px;height:15px;background:linear-gradient(#9a9a9a 0,#9a9a9a 1px,#f0f0f0 1px,#e4e4e4 50%,#d8d8d8 51%,#ececec 13px,#a8a8a8 14px)"></div>
<div class="abs" style="left:0;top:569px;width:15px;height:13px;background:linear-gradient(90deg,#fafafa,#c8c8c8)"></div>
<div class="abs" style="left:4px;top:572px;width:1px;height:7px;background:#555"></div><div class="abs" style="left:7px;top:572px;width:1px;height:7px;background:#555"></div>
<div class="abs" style="left:15px;top:568px;width:1px;height:15px;background:#111"></div>
<div class="abs" style="left:37px;top:569px;width:1px;height:13px;background:#c8c8c8"></div>
<svg class="abs" style="left:16px;top:568px" width="45" height="15"><path d="M7.5 7.5L14 3.5V11.5Z" fill="#aaa"/><path d="M32 3.5L38.5 7.5L32 11.5Z" fill="#aaa"/></svg>
<div class="abs" style="left:15px;top:582px;width:9px;height:1px;background:#111"></div><div class="abs" style="left:51px;top:582px;width:9px;height:1px;background:#111"></div>
<div class="abs" style="left:60px;top:568px;width:1px;height:15px;background:#777"></div>
<div class="abs" style="left:61px;top:569px;width:95px;height:13px;background:linear-gradient(#fdfdfd,#f0f0f0)"></div>
<div class="abs" style="left:66px;top:568px;font-size:10.5px;line-height:15px;color:#111;letter-spacing:0;-webkit-text-stroke:.05px #111">75%</div>
<svg class="abs" style="left:143px;top:568px" width="10" height="15"><path d="M2.5 6H7.5L5 2.5Z" fill="#444"/><path d="M2.5 9H7.5L5 12.5Z" fill="#444"/></svg>
<div class="abs" style="left:156px;top:569px;width:45px;height:13px;background:linear-gradient(90deg,#c8c8c8,#a8a8a8 8%,#b4b4b4 50%,#a8a8a8 92%,#d0d0d0)"></div><div class="abs" style="left:158px;top:570px;width:1px;height:11px;background:#777"></div><div class="abs" style="left:200px;top:570px;width:1px;height:11px;background:#666"></div>
<div class="abs" style="left:164px;top:571px;width:8px;height:10px;background:#fff;border:1px solid #555"></div>
<div class="abs" style="left:175px;top:571px;width:8px;height:10px;background:#fff;border:1px solid #555"></div>
<div class="abs" style="left:186px;top:571px;width:8px;height:10px;background:#fff;border:1px solid #555"></div>
<div class="abs" style="left:201px;top:569px;width:525px;height:13px;background:#f6f6f6"></div>
<div class="abs" style="left:207px;top:569px;width:519px;height:13px;border-radius:7px;background:linear-gradient(#c8c8c8,#e0e0e0 25%,#f4f4f4 50%,#ffffff 80%,#eeeeee);box-shadow:inset 2px 0 2px rgba(0,0,0,.1)"></div>
<div class="abs" style="left:236px;top:569px;width:307px;height:13px;border-radius:7px;border-top:1px solid #1a48c8;border-left:2px solid #1a48c8;border-right:2px solid #1a48c8;border-bottom:1px solid #2a6ad8;background:repeating-linear-gradient(90deg,rgba(255,255,255,0) 0,rgba(255,255,255,.18) 4px,rgba(255,255,255,0) 8px),linear-gradient(#9cc8f4,#a8d2f6 30%,#4a96ea 45%,#5aaaf2 70%,#9ae0ff)"></div>
<div class="abs" style="left:726px;top:569px;width:31px;height:13px;background:linear-gradient(#fcfcfc,#e8e8e8)"></div>
<div class="abs" style="left:742px;top:569px;width:1px;height:13px;background:#d0d0d0"></div>
<svg class="abs" style="left:726px;top:568px" width="31" height="15"><path d="M5 7.5L11 4V11Z" fill="#444"/><path d="M20 4L26 7.5L20 11Z" fill="#444"/></svg>
<svg class="abs" style="left:757px;top:568px" width="28" height="15"><rect x="0" y="0.5" width="15" height="14" fill="#f4f4f4"/><rect x="5" y="4.5" width="5" height="5" fill="#cfe0f8" stroke="#2a5ad0" stroke-width="1"/><path d="M7.5 1L5.8 3H9.2Z M7.5 14L5.8 12H9.2Z M1.5 7.5L3.5 5.8V9.2Z M13.5 7.5L11.5 5.8V9.2Z" fill="#2a5ad0"/><path d="M1 1.5h2M12 1.5h2M1 13.5h2M12 13.5h2" stroke="#2a5ad0" stroke-width=".8" stroke-dasharray="1 1"/><rect x="16" y="0.5" width="12" height="14" fill="#e8eef8"/><path d="M17.5 1.5V13.5" stroke="#2a5ad0" stroke-width="1" stroke-dasharray="1.5 1"/><rect x="20.5" y="3.5" width="6" height="8" rx="1" fill="#fff" stroke="#6a8ad0" stroke-width="1"/></svg>
<div class="abs" style="left:0;top:583px;width:785px;height:15px;background:#e8e8e8;border-top:1px solid #a0a0a0"></div>
<div class="abs" style="left:8px;top:583px;font-size:11px;line-height:15px;color:#111;-webkit-text-stroke:.2px #111;letter-spacing:.1px">Ready</div>
<div class="abs" style="left:542px;top:583px;font-size:11px;line-height:15px;color:#111;letter-spacing:.55px;white-space:nowrap;-webkit-text-stroke:.1px #111">M: [ 10.36, 3.85 ]</div>
<svg class="abs" style="left:770px;top:584px" width="15" height="14"><path d="M14 3L3 14M14 7L7 14M14 11L11 14" stroke="#999" stroke-width="1"/></svg>
</body></html>
